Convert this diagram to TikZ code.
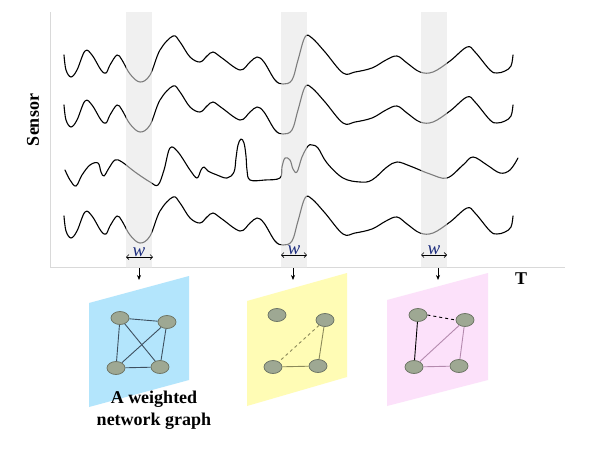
\documentclass[tikz,border=0pt]{standalone}
\usepackage{fontspec}
\setmainfont{Liberation Serif}
\usetikzlibrary{shapes.geometric,arrows.meta}
\definecolor{bandgray}{HTML}{E4E4E4}
\definecolor{axisgray}{HTML}{D9D9D9}
\definecolor{bluepanel}{HTML}{B3E5FC}
\definecolor{yellowpanel}{HTML}{FFFCB5}
\definecolor{pinkpanel}{HTML}{FCE1FA}
\definecolor{nodefill}{HTML}{9EA893}
\definecolor{nodeedge}{HTML}{6F7767}
\definecolor{blueedge}{HTML}{3E5060}
\definecolor{oliveedge}{HTML}{8C8A5A}
\definecolor{mauveedge}{HTML}{B48AAE}
\definecolor{wblue}{HTML}{1C2C7C}
\begin{document}
\begin{tikzpicture}[x=1pt,y=-1pt,
  curve/.style={line width=1.1pt, black, line join=round, line cap=round},
  band/.style={fill=bandgray, opacity=0.55},
  axis/.style={draw=axisgray, line width=0.8pt},
  gnode/.style={ellipse, draw=nodeedge, fill=nodefill, line width=0.8pt, minimum width=18pt, minimum height=13pt, inner sep=0pt},
  bedge/.style={draw=blueedge, line width=0.9pt},
  yedge/.style={draw=oliveedge, line width=0.9pt},
  pedge/.style={draw=mauveedge, line width=0.9pt},
  kedge/.style={draw=black, line width=0.9pt},
  wlabel/.style={font=\fontsize{19}{19}\selectfont\itshape, text=wblue, inner sep=0pt, anchor=base},
  warrow/.style={{Straight Barb[length=2.5pt,width=5pt]}-{Straight Barb[length=2.5pt,width=5pt]}, line width=0.7pt},
  downarrow/.style={-{Stealth[length=5pt,width=4pt]}, line width=0.7pt},
  bigtext/.style={font=\fontsize{18}{22}\selectfont\bfseries, inner sep=0pt}
]
\useasboundingbox (0,0) rectangle (600,458);
\fill[white] (0,0) rectangle (600,458);

% axes
\coordinate (ytop) at (50,12);
\coordinate (origin) at (50,267);
\coordinate (xend) at (565,267);
\draw[axis] (ytop) -- (origin) -- (xend);

% sensor curves 1, 2, 4
\foreach \dy in {0,50,161}{
\draw[curve, shift={(0,\dy)}] plot[smooth, tension=0.6] coordinates {
(64,55) (66,70) (71,77) (77,70) (85,51) (92,55) (101,70) (106,73) (110,65) (117,55)
(122,60) (130,74) (140,82) (150,75) (160,50) (173,36) (180,42) (190,57) (200,62)
(207,56) (213,52) (222,58) (240,70) (250,62) (257,57) (264,62) (275,80) (283,84)
(292,80) (298,60) (305,37) (312,38) (325,52) (343,73) (355,72) (372,68) (386,60)
(397,56) (407,63) (420,72) (433,72) (450,61) (467,47) (475,52) (490,70) (497,73)
(505,71) (511,66) (513,55)};
}
% sensor curve 3
\draw[curve] plot[smooth, tension=0.6] coordinates {
(65,170) (70,180) (76,186) (82,175) (90,165) (98,163) (101,172) (104,176) (109,168)
(115,160) (122,162) (135,172) (150,182) (158,185) (164,170) (170,148) (178,152)
(190,170) (197,178) (201,170) (204,167) (208,171) (217,175) (227,178) (234,172)
(236,158) (238,145) (241,139) (244,143) (246,156) (247,170) (250,180) (265,180) (280,178) (282,167)
(285,158) (290,160) (293,169) (297,172) (302,157) (308,146) (312,145) (318,148)
(327,163) (343,178) (360,182) (372,180) (387,167) (397,162) (410,166) (430,174)
(447,178) (463,165) (473,157) (487,165) (500,173) (510,170) (518,158)};

% windows
\fill[band] (126,12) rectangle (152,268);
\fill[band] (281,12) rectangle (307,268);
\fill[band] (421,12) rectangle (447,268);

% window widths
\coordinate (wa1) at (126,257); \coordinate (wa2) at (153,257);
\coordinate (wb1) at (281,255); \coordinate (wb2) at (307,255);
\coordinate (wc1) at (421,255); \coordinate (wc2) at (447,255);
\node[wlabel] (wA) at (139,256) {w};
\node[wlabel] (wB) at (294,254.5) {w};
\node[wlabel] (wC) at (434,254.5) {w};
\draw[warrow] (wa1) -- (wa2);
\draw[warrow] (wb1) -- (wb2);
\draw[warrow] (wc1) -- (wc2);

% down arrows
\coordinate (da1) at (139,268); \coordinate (da2) at (139,280);
\coordinate (db1) at (293,268); \coordinate (db2) at (293,280);
\coordinate (dc1) at (438,268); \coordinate (dc2) at (438,280);
\draw[downarrow] (da1) -- (da2);
\draw[downarrow] (db1) -- (db2);
\draw[downarrow] (dc1) -- (dc2);

% panels
\fill[bluepanel] (89,303) -- (189,276) -- (189,380) -- (89,407) -- cycle;
\fill[yellowpanel] (247,301) -- (347,273) -- (347,377) -- (247,406) -- cycle;
\fill[pinkpanel] (387,300) -- (488,273) -- (488,380) -- (387,406) -- cycle;

% graph 1
\node[gnode] (b1) at (120,318) {};
\node[gnode] (b2) at (167,322) {};
\node[gnode] (b3) at (116,368) {};
\node[gnode] (b4) at (160,367) {};
\draw[bedge] (b1) -- (b2);
\draw[bedge] (b1) -- (b3);
\draw[bedge] (b1) -- (b4);
\draw[bedge] (b2) -- (b3);
\draw[bedge] (b2) -- (b4);
\draw[bedge] (b3) -- (b4);

% graph 2
\node[gnode] (y1) at (277,315) {};
\node[gnode] (y2) at (325,320) {};
\node[gnode] (y3) at (273,367) {};
\node[gnode] (y4) at (318,366) {};
\draw[yedge, dashed] (y2) -- (y3);
\draw[yedge] (y2) -- (y4);
\draw[yedge] (y3) -- (y4);

% graph 3
\node[gnode] (p1) at (418,315) {};
\node[gnode] (p2) at (465,320) {};
\node[gnode] (p3) at (414,367) {};
\node[gnode] (p4) at (459,366) {};
\draw[kedge, dashed] (p1.east) -- (p2.west);
\draw[kedge] (p1) -- (p3);
\draw[pedge] (p2) -- (p3);
\draw[pedge] (p2) -- (p4);
\draw[pedge] (p3) -- (p4);

% labels
\node[bigtext, rotate=90] (sensor) at (33,120) {Sensor};
\node[bigtext] (tlabel) at (521,279) {T};
\node[bigtext, align=center] (caption) at (154,410) {A weighted\\network graph};
\end{tikzpicture}
\end{document}
